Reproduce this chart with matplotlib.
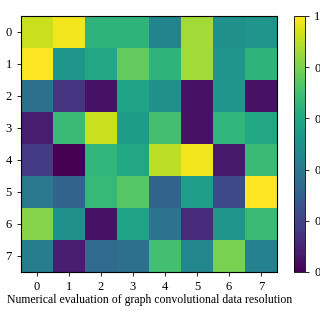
import numpy as np
import matplotlib
matplotlib.use("Agg")
import matplotlib.pyplot as plt

plt.rcParams['font.family'] = ['Liberation Serif', 'DejaVu Serif']

# cell values (rows 0..7, cols 0..7)
row0 = [0.92, 0.98, 0.65, 0.65, 0.45, 0.86, 0.50, 0.52]
row1 = [1.00, 0.53, 0.60, 0.76, 0.65, 0.86, 0.52, 0.65]
row2 = [0.37, 0.15, 0.05, 0.58, 0.50, 0.05, 0.52, 0.05]
row3 = [0.08, 0.68, 0.92, 0.55, 0.70, 0.05, 0.66, 0.60]
row4 = [0.17, 0.00, 0.66, 0.60, 0.90, 0.98, 0.07, 0.68]
row5 = [0.40, 0.32, 0.67, 0.74, 0.32, 0.56, 0.22, 1.00]
row6 = [0.82, 0.50, 0.05, 0.58, 0.38, 0.12, 0.53, 0.68]
row7 = [0.42, 0.08, 0.35, 0.37, 0.70, 0.46, 0.80, 0.44]
cbar_ticks = [0.0, 0.2, 0.4, 0.6, 0.8, 1.0]
caption = "Numerical evaluation of graph convolutional data resolution"

data = np.array([row0, row1, row2, row3, row4, row5, row6, row7])

fig = plt.figure(figsize=(3.2, 3.2), dpi=100)
ax = fig.add_axes([21/320, 1 - 272/320, 256/320, 256/320])
im = ax.imshow(data, cmap='viridis', vmin=0, vmax=1, aspect='auto')
ax.set_xticks(range(8))
ax.set_yticks(range(8))
ax.tick_params(labelsize=9, length=3, width=0.6)

# colorbar sits at the right edge; its labels run off the picture as in the source
cax = fig.add_axes([294/320, 1 - 272/320, 11/320, 256/320])
cb = fig.colorbar(im, cax=cax, ticks=cbar_ticks)
cb.ax.tick_params(labelsize=9, length=3, width=0.6)
cb.outline.set_linewidth(0.6)

fig.text(7/320, 1 - 300/320, caption, fontsize=8.5, va='center', ha='left')

fig.savefig("out.png", dpi=100)
